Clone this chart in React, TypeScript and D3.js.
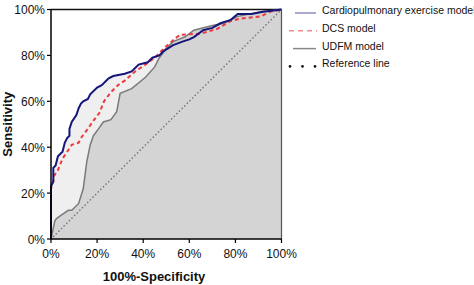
import React from 'react';
import * as d3 from 'd3';

// ROC points as [100%-Specificity, Sensitivity] in percent
const cardioFpr = [0, 0, 1, 1, 2, 3, 5, 6, 7, 8, 8, 9, 11, 12, 13, 14, 16, 17, 20, 22, 25, 27, 32, 35, 38, 42, 44, 47, 49, 53, 57, 60, 62, 66, 70, 73.5, 78, 81, 87, 92, 100];
const cardioTpr = [0, 23, 25, 31, 32, 36, 38, 42, 44, 45, 48, 51, 54, 57, 59, 60, 61, 63, 66, 67, 70, 71, 72, 73, 76, 77, 79, 80, 82, 84.5, 86, 87, 88, 91, 92, 94, 95.5, 98, 98, 99, 100];

const dcsFpr = [0, 0, 1, 1, 3, 5, 7, 9, 12, 13, 16, 18, 21, 23, 26, 29, 32, 36.5, 41, 45, 48, 50, 54, 56, 65, 72, 78, 82, 91, 95, 100];
const dcsTpr = [0, 22, 25, 27, 30, 35, 38, 41, 42, 44, 48, 51, 55, 60, 64, 67, 69, 73, 76, 79, 82, 84, 87.5, 89, 89.5, 91.5, 95, 96, 97, 99, 100];

const udfmFpr = [0, 1.7, 2.5, 4.6, 7.5, 9, 12, 14, 15.5, 17, 18.4, 20.6, 22.7, 26, 28.5, 30, 35, 41, 45, 47, 50, 53, 58, 62, 70, 75, 81, 91, 100];
const udfmTpr = [0, 8, 9, 10.5, 12.5, 12.5, 15.5, 22, 33.5, 41, 45, 48, 51, 52, 55.5, 63.5, 65.5, 70.5, 75, 79, 83, 86, 88, 91, 93, 94, 97, 99, 100];

const refFpr = [0, 100];
const refTpr = [0, 100];

const ticks = [0, 20, 40, 60, 80, 100];
const legendLabels = ['Cardiopulmonary exercise model', 'DCS model', 'UDFM model', 'Reference line'];

const W = 474;
const H = 285;
const margin = { top: 9.5, right: 192.5, bottom: 46, left: 51 };

export default function App() {
  const x = d3.scaleLinear().domain([0, 100]).range([margin.left, W - margin.right]);
  const y = d3.scaleLinear().domain([0, 100]).range([H - margin.bottom, margin.top]);

  const zip = (xs: number[], ys: number[]) => xs.map((v, i) => [v, ys[i]] as [number, number]);
  const cardio = zip(cardioFpr, cardioTpr);
  const dcs = zip(dcsFpr, dcsTpr);
  const udfm = zip(udfmFpr, udfmTpr);
  const ref = zip(refFpr, refTpr);

  const line = d3.line<[number, number]>().x(d => x(d[0])).y(d => y(d[1]));
  const area = d3.area<[number, number]>().x(d => x(d[0])).y0(y(0)).y1(d => y(d[1]));

  const font = '"Liberation Sans", Arial, sans-serif';
  const x0 = x(0), x1 = x(100), yb = y(0), yt = y(100);

  return (
    <svg width={W} height={H} style={{ position: 'absolute', left: 0, top: 0 }} fontFamily={font}>
      <rect width={W} height={H} fill="#fff" />
      {/* shaded areas */}
      <path d={area(cardio) ?? ''} fill="#efefef" />
      <path d={area(dcs) ?? ''} fill="#efefef" />
      <path d={area(udfm) ?? ''} fill="#d4d4d4" />

      {/* frame */}
      <line x1={x0} x2={x1} y1={yt} y2={yt} stroke="#111" strokeWidth={1.5} />
      <line x1={x1} x2={x1} y1={yt} y2={yb} stroke="#555" strokeWidth={1.2} />

      {/* reference diagonal */}
      <path d={line(ref) ?? ''} fill="none" stroke="#777" strokeWidth={1.6} strokeDasharray="0.1 3.6" strokeLinecap="round" />

      {/* curves */}
      <path d={line(udfm) ?? ''} fill="none" stroke="#7a7a7a" strokeWidth={1.5} />
      <path d={line(dcs) ?? ''} fill="none" stroke="#ee3a40" strokeWidth={2} strokeDasharray="4 3" />
      <path d={line(cardio) ?? ''} fill="none" stroke="#16167a" strokeWidth={2} />

      {/* axes */}
      <line x1={x0} x2={x0} y1={yt} y2={yb} stroke="#000" strokeWidth={1.5} />
      <line x1={x0} x2={x1} y1={yb} y2={yb} stroke="#000" strokeWidth={1.5} />
      {ticks.map(t => (
        <g key={'y' + t}>
          <line x1={x0 - 4} x2={x0} y1={y(t)} y2={y(t)} stroke="#000" strokeWidth={1.2} />
          <text x={x0 - 6} y={y(t) + 4.5} fontSize={12} textAnchor="end" fill="#111">{t}%</text>
        </g>
      ))}
      {ticks.map(t => (
        <g key={'x' + t}>
          <line x1={x(t)} x2={x(t)} y1={yb} y2={yb + 4} stroke="#000" strokeWidth={1.2} />
          <text x={x(t)} y={yb + 19} fontSize={12} textAnchor="middle" fill="#111">{t}%</text>
        </g>
      ))}
      <text x={154} y={281} fontSize={13} fontWeight="bold" textAnchor="middle" fill="#111">100%-Specificity</text>
      <text transform={`translate(12,${(yt + yb) / 2}) rotate(-90)`} fontSize={13} fontWeight="bold" textAnchor="middle" fill="#111">Sensitivity</text>

      {/* legend */}
      {legendLabels.map((lab, i) => {
        const ly = 10 + i * 17.8;
        return (
          <g key={lab}>
            {i === 0 && <line x1={295} x2={316} y1={ly + 3} y2={ly + 3} stroke="#8c8cc0" strokeWidth={1.5} />}
            {i === 1 && <line x1={289} x2={317} y1={ly + 3} y2={ly + 3} stroke="#f08888" strokeWidth={1.5} strokeDasharray="5 4" />}
            {i === 2 && <line x1={293} x2={316} y1={ly + 3} y2={ly + 3} stroke="#888" strokeWidth={1.5} />}
            {i === 3 && [290, 302.5, 315].map(cx => <circle key={cx} cx={cx} cy={ly + 3} r={1.3} fill="#111" />)}
            <text x={322} y={ly + 4} fontSize={10.5} fill="#111">{lab}</text>
          </g>
        );
      })}
    </svg>
  );
}
